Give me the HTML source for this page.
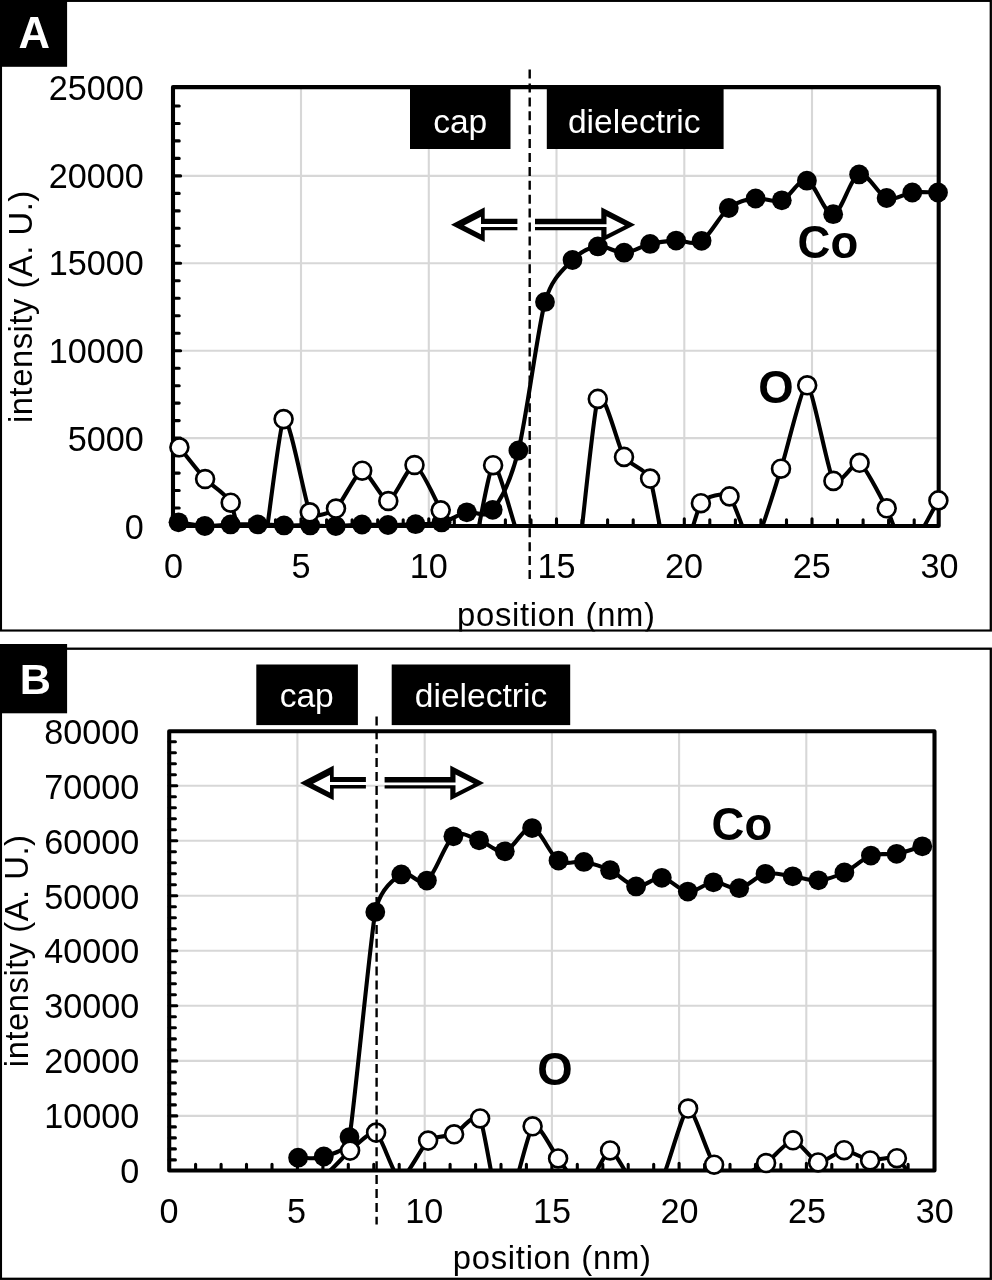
<!DOCTYPE html>
<html lang="en">
<head>
<meta charset="utf-8">
<title>Intensity profiles A and B</title>
<style>
html,body{margin:0;padding:0;background:#fff;}
body{width:992px;height:1280px;overflow:hidden;font-family:"Liberation Sans", Arial, Helvetica, sans-serif;}
svg{display:block;}
</style>
</head>
<body>
<svg width="992" height="1280" viewBox="0 0 992 1280" font-family='"Liberation Sans", Arial, Helvetica, sans-serif'>
<rect x="0" y="0" width="992" height="1280" fill="#fff"/>
<rect x="0.9" y="0.8" width="989.9" height="629.8" fill="none" stroke="#000" stroke-width="2.3"/>
<rect x="0.9" y="648.7" width="989.9" height="630.1" fill="none" stroke="#000" stroke-width="2.3"/>
<rect x="0" y="0" width="67.1" height="66.8" fill="#000"/>
<text x="34.3" y="48" text-anchor="middle" font-size="43.6" font-weight="bold" fill="#fff">A</text>
<rect x="0" y="644" width="67.1" height="69.3" fill="#000"/>
<text x="35.3" y="693.8" text-anchor="middle" font-size="43.2" font-weight="bold" fill="#fff">B</text>
<path d="M301 87.1V526M428.8 87.1V526M556.5 87.1V526M684.3 87.1V526M812 87.1V526M173 438.1H938.7M173 350.7H938.7M173 263.3H938.7M173 175.9H938.7" fill="none" stroke="#d7d7d7" stroke-width="2.1"/>
<path d="M173 508h6.2M173 490.5h6.2M173 473.1h6.2M173 455.6h6.2M173 438.1h7.6M173 420.6h6.2M173 403.1h6.2M173 385.7h6.2M173 368.2h6.2M173 350.7h7.6M173 333.2h6.2M173 315.7h6.2M173 298.3h6.2M173 280.8h6.2M173 263.3h7.6M173 245.8h6.2M173 228.3h6.2M173 210.9h6.2M173 193.4h6.2M173 175.9h7.6M173 158.4h6.2M173 140.9h6.2M173 123.5h6.2M173 106h6.2M198.8 526v-6.3M224.4 526v-6.3M249.9 526v-6.3M275.5 526v-6.3M301 526v-7.2M326.6 526v-6.3M352.1 526v-6.3M377.7 526v-6.3M403.2 526v-6.3M428.8 526v-7.2M454.3 526v-6.3M479.9 526v-6.3M505.4 526v-6.3M531 526v-6.3M556.5 526v-7.2M582.1 526v-6.3M607.6 526v-6.3M633.2 526v-6.3M658.7 526v-6.3M684.3 526v-7.2M709.8 526v-6.3M735.4 526v-6.3M760.9 526v-6.3M786.5 526v-6.3M812 526v-7.2M837.5 526v-6.3M863.1 526v-6.3M888.6 526v-6.3M914.2 526v-6.3" fill="none" stroke="#000" stroke-width="3.1" stroke-linecap="round"/>
<rect x="173" y="87.1" width="765.7" height="438.9" fill="none" stroke="#000" stroke-width="4.1" stroke-linejoin="round"/>
<rect x="410" y="87.5" width="100.5" height="61.5" fill="#000"/>
<text x="460.2" y="132.6" text-anchor="middle" fill="#fff" font-size="33.6">cap</text>
<rect x="546.8" y="87.5" width="176.8" height="61.5" fill="#000"/>
<text x="634.2" y="132.6" text-anchor="middle" fill="#fff" font-size="33.6">dielectric</text>
<path d="M451 224.7L484.7 207.3V218.7H517.4V230.3H484.7V242Z" fill="#000"/><path d="M464 225.5L481 216.7V234.3ZM480.5 223.9H518.4V226.9H480.5Z" fill="#fff"/>
<path d="M635.2 224.7L601.3 207.3V218.8H535V230.3H601.3V242Z" fill="#000"/><path d="M624.8 225.5L606.5 216.2V234.7ZM607 224.2H534V227H607Z" fill="#fff"/>
<clipPath id="clipA"><rect x="173" y="87.1" width="767.7" height="438.9"/></clipPath>
<g clip-path="url(#clipA)" fill="none" stroke="#000" stroke-width="4.1" stroke-linejoin="round"><path d="M178.5 522.3C187.3 523.5 196.1 525.6 204.8 526C213.5 526.4 221.8 524.7 230.6 524.4C239.4 524.1 248.9 524.2 257.8 524.4C266.7 524.6 275.3 525.2 284 525.4C292.7 525.6 301.6 525.3 310.2 525.4C318.8 525.5 327.2 526.1 335.8 526C344.4 525.9 353.3 524.7 362 524.5C370.7 524.3 379.1 525 388 525C396.9 525 406.7 524.6 415.6 524.2C424.5 523.8 433.1 524.4 441.6 522.4C450.1 520.4 458.3 514.4 466.8 512.3C475.3 510.2 484.4 519.8 492.7 509.8C501 499.8 510.5 481.8 518.4 450.5C526.3 419.2 538.2 326 545 301.9C551.8 277.8 563.7 269.2 572.5 260C581.3 250.8 589.3 247.6 597.9 246.4C606.5 245.2 615.4 253.1 624.1 252.7C632.8 252.3 641.4 245.9 650.1 243.9C658.8 241.9 667.5 241.1 676.1 240.6C684.7 240.1 692.8 246.2 701.6 240.8C710.4 235.4 719.8 215.1 728.8 208C737.8 200.9 746.8 199.8 755.6 198.5C764.4 197.2 773.2 203.3 781.8 200.3C790.3 197.3 798.3 178.4 806.9 180.7C815.5 183 824.5 215.2 833.2 214.2C841.9 213.1 850.2 177.1 859.1 174.4C868 171.7 877.7 195 886.6 198C895.5 201 903.7 193.4 912.3 192.5C920.9 191.6 929.4 192.5 938 192.5"/></g>
<g fill="#000">
<circle cx="178.5" cy="522.3" r="9.9"/>
<circle cx="204.8" cy="526" r="9.9"/>
<circle cx="230.6" cy="524.4" r="9.9"/>
<circle cx="257.8" cy="524.4" r="9.9"/>
<circle cx="284" cy="525.4" r="9.9"/>
<circle cx="310.2" cy="525.4" r="9.9"/>
<circle cx="335.8" cy="526" r="9.9"/>
<circle cx="362" cy="524.5" r="9.9"/>
<circle cx="388" cy="525" r="9.9"/>
<circle cx="415.6" cy="524.2" r="9.9"/>
<circle cx="441.6" cy="522.4" r="9.9"/>
<circle cx="466.8" cy="512.3" r="9.9"/>
<circle cx="492.7" cy="509.8" r="9.9"/>
<circle cx="518.4" cy="450.5" r="9.9"/>
<circle cx="545" cy="301.9" r="9.9"/>
<circle cx="572.5" cy="260" r="9.9"/>
<circle cx="597.9" cy="246.4" r="9.9"/>
<circle cx="624.1" cy="252.7" r="9.9"/>
<circle cx="650.1" cy="243.9" r="9.9"/>
<circle cx="676.1" cy="240.6" r="9.9"/>
<circle cx="701.6" cy="240.8" r="9.9"/>
<circle cx="728.8" cy="208" r="9.9"/>
<circle cx="755.6" cy="198.5" r="9.9"/>
<circle cx="781.8" cy="200.3" r="9.9"/>
<circle cx="806.9" cy="180.7" r="9.9"/>
<circle cx="833.2" cy="214.2" r="9.9"/>
<circle cx="859.1" cy="174.4" r="9.9"/>
<circle cx="886.6" cy="198" r="9.9"/>
<circle cx="912.3" cy="192.5" r="9.9"/>
<circle cx="938" cy="192.5" r="9.9"/>
</g>
<g clip-path="url(#clipA)" fill="none" stroke="#000" stroke-width="4.1" stroke-linejoin="round"><path d="M179.4 447.3C184.5 453.6 200 473.5 205.1 479C210.2 484.5 226.1 493.3 230.7 502.7C235.3 512.1 252.1 595.4 257.4 587C262.7 578.6 278.4 426.6 283.6 419.1C288.9 411.6 305.8 505.5 309.8 512.3C313.8 519.1 330.7 512.7 336 508.5C341.2 504.3 356.9 471.4 362.2 470.7C367.4 469.9 383.1 501.6 388.3 501C393.6 500.4 409.3 464.1 414.5 465C419.8 465.9 435.5 499.1 440.7 510.3C445.9 521.5 461.6 581.5 466.9 577C472.1 572.5 487.8 469.1 493.1 465.2C498.3 461.3 514.3 529 519.2 538C524.2 547 540.2 553 545.4 560C550.7 567 566.5 623.6 571.6 608C576.7 592.4 592.5 414 597.8 398.9C603 383.8 618.7 448.9 624 456.9C629.2 464.9 646.4 469.1 650.1 478.6C653.9 488.1 667.9 579.5 673 582C678.1 584.5 696 510.6 700.9 503.2C705.8 495.8 724.2 492.1 729.5 496.4C734.8 500.7 748.2 549.4 753.4 546.6C758.6 543.8 775.7 484.8 781 468.7C786.4 452.6 802 384.1 807.2 385.3C812.5 386.5 828.2 473.1 833.4 480.9C838.6 488.6 854.2 460.1 859.6 462.8C864.9 465.5 882 499.3 886.7 508.3C891.4 517.3 901.6 553.2 906.8 552.4C912 551.6 932.1 510.8 938.4 500.4"/></g>
<g fill="#fff" stroke="#000" stroke-width="2.65">
<circle cx="179.4" cy="447.3" r="8.95"/>
<circle cx="205.1" cy="479" r="8.95"/>
<circle cx="230.7" cy="502.7" r="8.95"/>
<circle cx="283.6" cy="419.1" r="8.95"/>
<circle cx="309.8" cy="512.3" r="8.95"/>
<circle cx="336" cy="508.5" r="8.95"/>
<circle cx="362.2" cy="470.7" r="8.95"/>
<circle cx="388.3" cy="501" r="8.95"/>
<circle cx="414.5" cy="465" r="8.95"/>
<circle cx="440.7" cy="510.3" r="8.95"/>
<circle cx="493.1" cy="465.2" r="8.95"/>
<circle cx="597.8" cy="398.9" r="8.95"/>
<circle cx="624" cy="456.9" r="8.95"/>
<circle cx="650.1" cy="478.6" r="8.95"/>
<circle cx="700.9" cy="503.2" r="8.95"/>
<circle cx="729.5" cy="496.4" r="8.95"/>
<circle cx="781" cy="468.7" r="8.95"/>
<circle cx="807.2" cy="385.3" r="8.95"/>
<circle cx="833.4" cy="480.9" r="8.95"/>
<circle cx="859.6" cy="462.8" r="8.95"/>
<circle cx="886.7" cy="508.3" r="8.95"/>
<circle cx="938.4" cy="500.4" r="8.95"/>
</g>
<path d="M529.7 69.6V580.8" fill="none" stroke="#000" stroke-width="2.4" stroke-dasharray="9 4.9"/>
<g font-size="34.2" fill="#000">
<text x="143.8" y="538.7" text-anchor="end">0</text>
<text x="143.8" y="450.9" text-anchor="end">5000</text>
<text x="143.8" y="363.1" text-anchor="end">10000</text>
<text x="143.8" y="275.4" text-anchor="end">15000</text>
<text x="143.8" y="187.6" text-anchor="end">20000</text>
<text x="143.8" y="99.8" text-anchor="end">25000</text>
<text x="173.4" y="578" text-anchor="middle">0</text>
<text x="301.1" y="578" text-anchor="middle">5</text>
<text x="428.8" y="578" text-anchor="middle">10</text>
<text x="556.4" y="578" text-anchor="middle">15</text>
<text x="684.1" y="578" text-anchor="middle">20</text>
<text x="811.8" y="578" text-anchor="middle">25</text>
<text x="939.4" y="578" text-anchor="middle">30</text>
<text x="556.4" y="625.6" text-anchor="middle" font-size="32.8" letter-spacing="0.7">position (nm)</text>
<text transform="translate(32.4 306.6) rotate(-90)" text-anchor="middle" font-size="32.8" letter-spacing="0.5">intensity (A. U.)</text>
</g>
<text x="797.6" y="257.6" font-size="45.5" font-weight="bold" fill="#000">Co</text>
<text x="758.2" y="402.6" font-size="45.5" font-weight="bold" fill="#000">O</text>
<rect x="0" y="631.8" width="992" height="12.2" fill="#fff"/>
<path d="M297.4 731.3V1170.5M424.7 731.3V1170.5M551.9 731.3V1170.5M679.1 731.3V1170.5M806.3 731.3V1170.5M169.2 1115.9H934.5M169.2 1060.9H934.5M169.2 1005.8H934.5M169.2 950.8H934.5M169.2 895.8H934.5M169.2 840.8H934.5M169.2 785.8H934.5" fill="none" stroke="#d7d7d7" stroke-width="2.1"/>
<path d="M169.2 1159.9h6.2M169.2 1148.9h6.2M169.2 1137.9h6.2M169.2 1126.9h6.2M169.2 1115.9h7.6M169.2 1104.9h6.2M169.2 1093.9h6.2M169.2 1082.9h6.2M169.2 1071.9h6.2M169.2 1060.9h7.6M169.2 1049.9h6.2M169.2 1038.9h6.2M169.2 1027.8h6.2M169.2 1016.8h6.2M169.2 1005.8h7.6M169.2 994.8h6.2M169.2 983.8h6.2M169.2 972.8h6.2M169.2 961.8h6.2M169.2 950.8h7.6M169.2 939.8h6.2M169.2 928.8h6.2M169.2 917.8h6.2M169.2 906.8h6.2M169.2 895.8h7.6M169.2 884.8h6.2M169.2 873.8h6.2M169.2 862.8h6.2M169.2 851.8h6.2M169.2 840.8h7.6M169.2 829.8h6.2M169.2 818.8h6.2M169.2 807.8h6.2M169.2 796.8h6.2M169.2 785.8h7.6M169.2 774.8h6.2M169.2 763.8h6.2M169.2 752.7h6.2M169.2 741.7h6.2M195.6 1170.5v-6.3M221.1 1170.5v-6.3M246.5 1170.5v-6.3M272 1170.5v-6.3M297.4 1170.5v-7.2M322.9 1170.5v-6.3M348.3 1170.5v-6.3M373.8 1170.5v-6.3M399.2 1170.5v-6.3M424.7 1170.5v-7.2M450.1 1170.5v-6.3M475.6 1170.5v-6.3M501 1170.5v-6.3M526.4 1170.5v-6.3M551.9 1170.5v-7.2M577.3 1170.5v-6.3M602.8 1170.5v-6.3M628.2 1170.5v-6.3M653.7 1170.5v-6.3M679.1 1170.5v-7.2M704.6 1170.5v-6.3M730 1170.5v-6.3M755.5 1170.5v-6.3M780.9 1170.5v-6.3M806.4 1170.5v-7.2M831.8 1170.5v-6.3M857.2 1170.5v-6.3M882.7 1170.5v-6.3M908.1 1170.5v-6.3" fill="none" stroke="#000" stroke-width="3.1" stroke-linecap="round"/>
<rect x="169.2" y="731.3" width="765.3" height="439.2" fill="none" stroke="#000" stroke-width="4.1" stroke-linejoin="round"/>
<rect x="256.3" y="664.5" width="101.6" height="60.6" fill="#000"/>
<text x="306.7" y="707.2" text-anchor="middle" fill="#fff" font-size="33.6">cap</text>
<rect x="391.7" y="664.5" width="178.5" height="60.6" fill="#000"/>
<text x="481" y="707.2" text-anchor="middle" fill="#fff" font-size="33.6">dielectric</text>
<path d="M300 782.9L333.7 765.6V776.9H365.9V788.6H333.7V800.2Z" fill="#000"/><path d="M313 783.8L330 774.9V792.6ZM329.5 782.1H366.9V785.1H329.5Z" fill="#fff"/>
<path d="M484.1 782.9L450.3 765.6V777.1H384.6V788.6H450.3V800.2Z" fill="#000"/><path d="M473.7 783.8L455.5 774.4V792.9ZM456 782.4H383.6V785.2H456Z" fill="#fff"/>
<clipPath id="clipB"><rect x="169.2" y="731.3" width="767.3" height="439.2"/></clipPath>
<g clip-path="url(#clipB)" fill="none" stroke="#000" stroke-width="4.1" stroke-linejoin="round"><path d="M298.1 1157.7C306.7 1157.3 315.2 1159.9 323.8 1156.5C332.4 1153.1 346.2 1152.9 349.5 1137.1C352.8 1121.3 370.9 934.3 375.3 911.9C379.7 889.5 392.7 879.6 401.3 874.4C409.9 869.2 418.2 887 426.9 880.6C435.6 874.2 444.7 843 453.4 836.3C462.1 829.6 470.5 837.8 479.1 840.3C487.7 842.8 496 853.3 504.8 851.3C513.6 849.3 523.1 826.5 532.1 828.1C541.1 829.7 549.9 855 558.5 860.6C567.1 866.2 575.3 860.3 583.9 861.9C592.5 863.5 601.4 866.1 610.1 870.2C618.8 874.3 627.5 885.1 636.1 886.4C644.7 887.7 653.2 876.9 661.8 877.8C670.4 878.7 679.2 890.9 687.8 891.6C696.4 892.4 704.8 882.9 713.4 882.3C722 881.7 730.5 889.6 739.2 888.2C747.9 886.8 756.6 875.8 765.5 873.8C774.4 871.8 783.9 875.2 792.7 876.3C801.5 877.4 809.8 880.9 818.4 880.3C827 879.7 835.6 876.6 844.4 872.5C853.1 868.4 862.2 858.7 870.9 855.6C879.6 852.5 888 855.3 896.6 853.8C905.2 852.2 913.7 848.8 922.3 846.3"/></g>
<g fill="#000">
<circle cx="298.1" cy="1157.7" r="9.9"/>
<circle cx="323.8" cy="1156.5" r="9.9"/>
<circle cx="349.5" cy="1137.1" r="9.9"/>
<circle cx="375.3" cy="911.9" r="9.9"/>
<circle cx="401.3" cy="874.4" r="9.9"/>
<circle cx="426.9" cy="880.6" r="9.9"/>
<circle cx="453.4" cy="836.3" r="9.9"/>
<circle cx="479.1" cy="840.3" r="9.9"/>
<circle cx="504.8" cy="851.3" r="9.9"/>
<circle cx="532.1" cy="828.1" r="9.9"/>
<circle cx="558.5" cy="860.6" r="9.9"/>
<circle cx="583.9" cy="861.9" r="9.9"/>
<circle cx="610.1" cy="870.2" r="9.9"/>
<circle cx="636.1" cy="886.4" r="9.9"/>
<circle cx="661.8" cy="877.8" r="9.9"/>
<circle cx="687.8" cy="891.6" r="9.9"/>
<circle cx="713.4" cy="882.3" r="9.9"/>
<circle cx="739.2" cy="888.2" r="9.9"/>
<circle cx="765.5" cy="873.8" r="9.9"/>
<circle cx="792.7" cy="876.3" r="9.9"/>
<circle cx="818.4" cy="880.3" r="9.9"/>
<circle cx="844.4" cy="872.5" r="9.9"/>
<circle cx="870.9" cy="855.6" r="9.9"/>
<circle cx="896.6" cy="853.8" r="9.9"/>
<circle cx="922.3" cy="846.3" r="9.9"/>
</g>
<g clip-path="url(#clipB)" fill="none" stroke="#000" stroke-width="4.1" stroke-linejoin="round"><path d="M298.1 1176C303.3 1175.9 318.9 1178 324.1 1175.5C329.3 1173 344.9 1154.9 350.1 1150.6C355.3 1146.3 371.1 1129.7 376.1 1132.6C381.1 1135.5 394.8 1178.7 400 1179.5C405.2 1180.3 422.7 1145.1 428.1 1140.6C433.5 1136.1 448.9 1136.5 454.1 1134.3C459.3 1132.1 475.6 1110.4 480.1 1118.4C484.6 1126.4 497.6 1219.6 502.8 1220.4C508.1 1221.2 527.1 1132.5 532.6 1126.3C538.1 1120.1 553 1152 558.1 1158.4C563.2 1164.8 578.9 1190.8 584.1 1190C589.3 1189.2 604.9 1150.7 610.1 1150.4C615.3 1150.1 630.9 1184.1 636.1 1187C641.3 1189.9 657.6 1185.8 662.1 1179C666.6 1172.2 682.9 1109.9 688.1 1108.5C693.3 1107.1 708.9 1158.1 714.1 1164.7C719.3 1171.3 734.9 1175.2 740.1 1175C745.3 1174.8 760.8 1166.5 766.1 1163C771.4 1159.5 787.8 1140.4 793 1140.3C798.2 1140.2 813 1161.4 818.1 1162.4C823.2 1163.4 838.9 1150.4 844.1 1150.2C849.3 1150 864.8 1159.6 870.1 1160.4C875.4 1161.2 891.7 1155 896.9 1158.2C902.1 1161.4 917.1 1185.2 922.1 1192"/></g>
<g fill="#fff" stroke="#000" stroke-width="2.65">
<circle cx="350.1" cy="1150.6" r="8.95"/>
<circle cx="376.1" cy="1132.6" r="8.95"/>
<circle cx="428.1" cy="1140.6" r="8.95"/>
<circle cx="454.1" cy="1134.3" r="8.95"/>
<circle cx="480.1" cy="1118.4" r="8.95"/>
<circle cx="532.6" cy="1126.3" r="8.95"/>
<circle cx="558.1" cy="1158.4" r="8.95"/>
<circle cx="610.1" cy="1150.4" r="8.95"/>
<circle cx="688.1" cy="1108.5" r="8.95"/>
<circle cx="714.1" cy="1164.7" r="8.95"/>
<circle cx="766.1" cy="1163" r="8.95"/>
<circle cx="793" cy="1140.3" r="8.95"/>
<circle cx="818.1" cy="1162.4" r="8.95"/>
<circle cx="844.1" cy="1150.2" r="8.95"/>
<circle cx="870.1" cy="1160.4" r="8.95"/>
<circle cx="896.9" cy="1158.2" r="8.95"/>
</g>
<path d="M376.6 716.4V1224.5" fill="none" stroke="#000" stroke-width="2.4" stroke-dasharray="9 4.9"/>
<g font-size="34.2" fill="#000">
<text x="139.3" y="1183" text-anchor="end">0</text>
<text x="139.3" y="1128.1" text-anchor="end">10000</text>
<text x="139.3" y="1073.2" text-anchor="end">20000</text>
<text x="139.3" y="1018.3" text-anchor="end">30000</text>
<text x="139.3" y="963.4" text-anchor="end">40000</text>
<text x="139.3" y="908.5" text-anchor="end">50000</text>
<text x="139.3" y="853.6" text-anchor="end">60000</text>
<text x="139.3" y="798.7" text-anchor="end">70000</text>
<text x="139.3" y="743.8" text-anchor="end">80000</text>
<text x="168.9" y="1222.9" text-anchor="middle">0</text>
<text x="296.6" y="1222.9" text-anchor="middle">5</text>
<text x="424.2" y="1222.9" text-anchor="middle">10</text>
<text x="551.9" y="1222.9" text-anchor="middle">15</text>
<text x="679.5" y="1222.9" text-anchor="middle">20</text>
<text x="807.1" y="1222.9" text-anchor="middle">25</text>
<text x="934.8" y="1222.9" text-anchor="middle">30</text>
<text x="552.2" y="1268.9" text-anchor="middle" font-size="32.8" letter-spacing="0.7">position (nm)</text>
<text transform="translate(28.3 950.8) rotate(-90)" text-anchor="middle" font-size="32.8" letter-spacing="0.5">intensity (A. U.)</text>
</g>
<text x="711.6" y="840" font-size="45.5" font-weight="bold" fill="#000">Co</text>
<text x="537.2" y="1085" font-size="45.5" font-weight="bold" fill="#000">O</text>
</svg>
</body>
</html>
